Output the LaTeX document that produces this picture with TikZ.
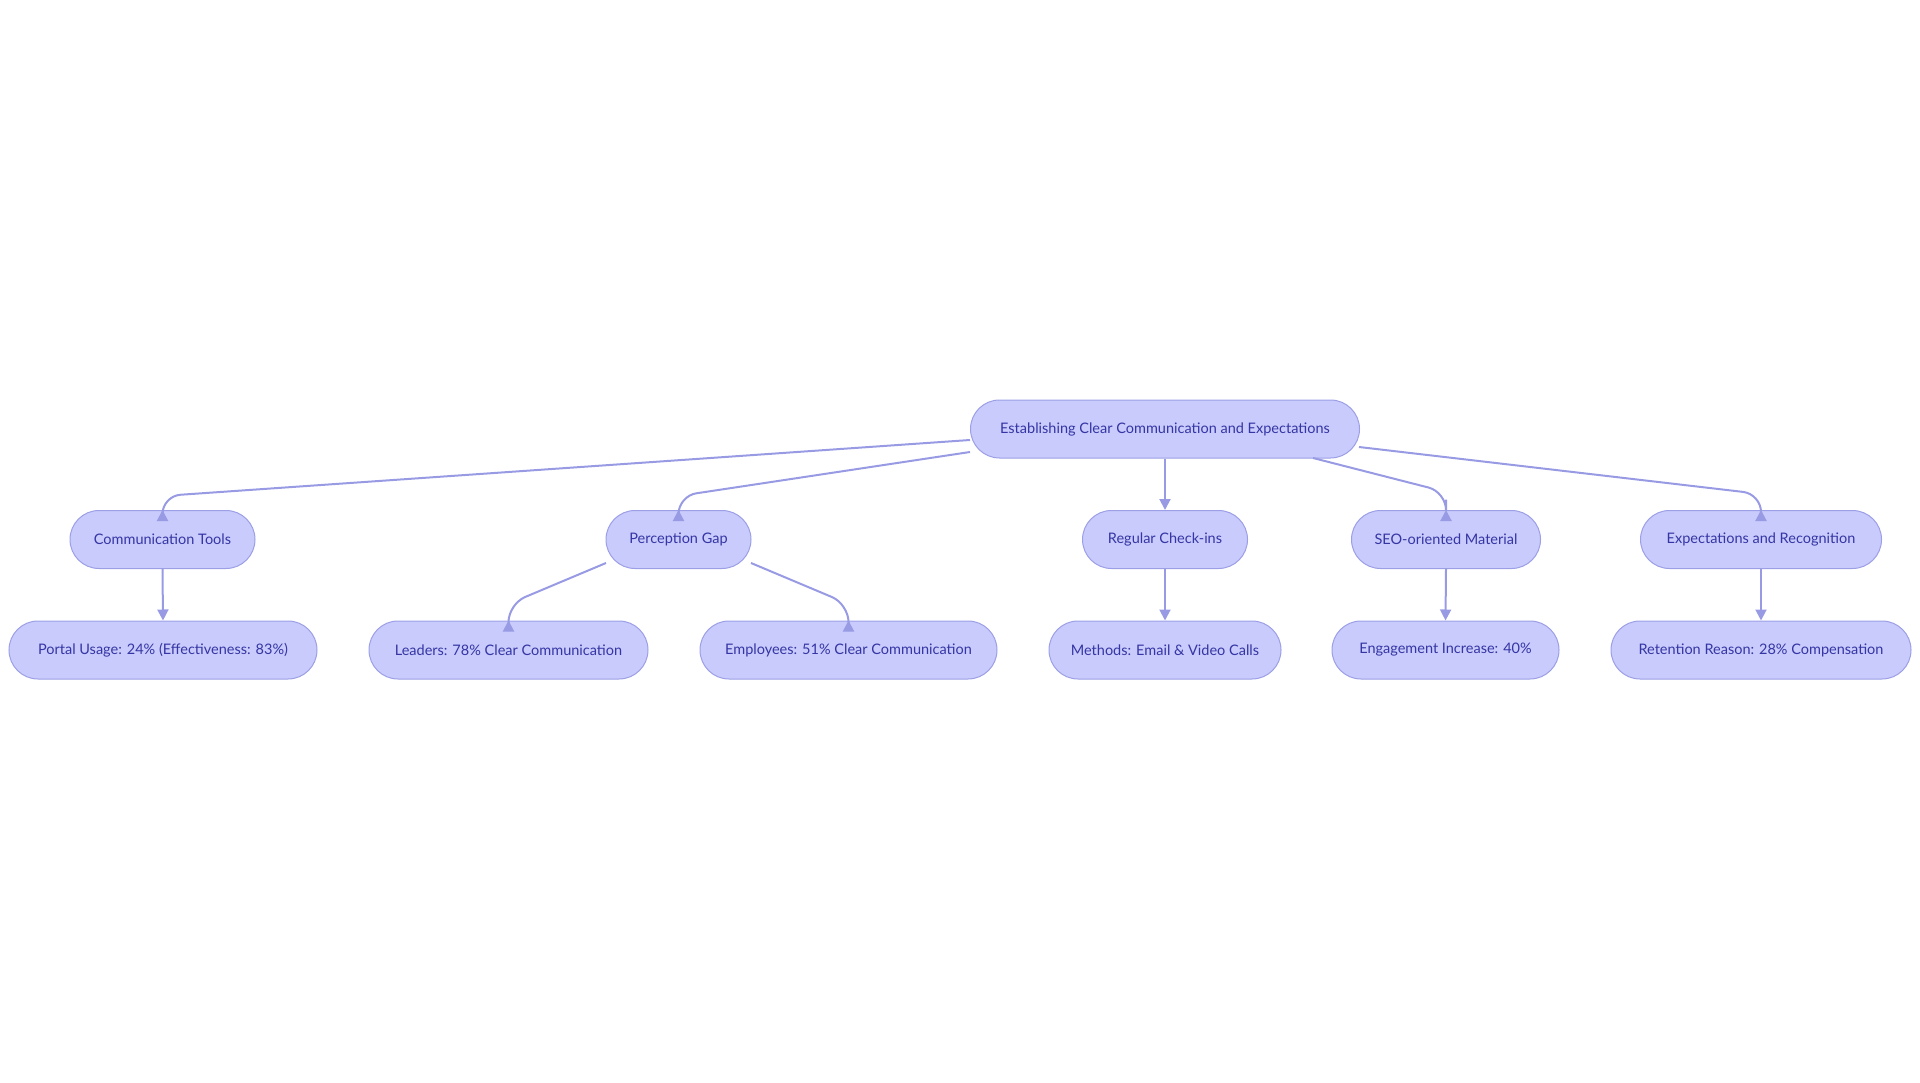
\documentclass[tikz,border=0pt]{standalone}
\usepackage{fontspec}
\setmainfont{Lato}
\usetikzlibrary{arrows.meta}
\definecolor{nfill}{HTML}{C8CBFB}
\definecolor{nline}{HTML}{9C9FE6}
\definecolor{ntext}{HTML}{3535A5}
\definecolor{eline}{HTML}{989BE3}
\tikzset{
 box/.style={draw=nline, line width=1pt, fill=nfill, rounded corners=29pt, minimum height=58pt, inner sep=0pt, text=ntext, font=\fontsize{14.5}{16}\selectfont},
 conn/.style={draw=eline, line width=2pt, -{Triangle[length=11pt,width=11pt]}, rounded corners=18pt}
}
\begin{document}
\begin{tikzpicture}[x=1pt,y=-1pt]
\useasboundingbox (0,0) rectangle (1920,1083);
\node[box, minimum width=389pt] (root) at (1165,429) {Establishing Clear Communication and Expectations};
\node[box, minimum width=185pt] (ct) at (162.5,539.5) {Communication Tools};
\node[box, minimum width=145pt] (pg) at (678.5,539.5) {Perception Gap};
\node[box, minimum width=165pt] (rc) at (1165,539.5) {Regular Check-ins};
\node[box, minimum width=189pt] (seo) at (1446,539.5) {SEO-oriented Material};
\node[box, minimum width=241pt] (er) at (1761,539.5) {Expectations and Recognition};
\node[box, minimum width=308pt] (pu) at (163,650) {Portal Usage: 24\% (Effectiveness: 83\%)};
\node[box, minimum width=279pt] (ld) at (508.5,650) {Leaders: 78\% Clear Communication};
\node[box, minimum width=297pt] (em) at (848.5,650) {Employees: 51\% Clear Communication};
\node[box, minimum width=232pt] (me) at (1165,650) {Methods: Email \& Video Calls};
\node[box, minimum width=227pt] (en) at (1445.5,650) {Engagement Increase: 40\%};
\node[box, minimum width=300pt] (rr) at (1761,650) {Retention Reason: 28\% Compensation};
\coordinate (s1) at (970,440);
\coordinate (s2) at (970,452);
\coordinate (s3) at (1313,458);
\coordinate (s4) at (1359,447);
\coordinate (p1) at (606,563);
\coordinate (p2) at (751,563);
\draw[conn] (s1) -- (ct.north |- 0,496) -- (ct.north);
\draw[conn] (s2) -- (pg.north |- 0,496) -- (pg.north);
\draw[conn] (root.south) -- (rc.north);
\draw[conn] (s3) -- (seo.north |- 0,492) -- (seo.north);
\draw[conn] (s4) -- (er.north |- 0,494) -- (er.north);
\draw[conn] (p1) -- (ld.north |- 0,604) -- (ld.north);
\draw[conn] (p2) -- (em.north |- 0,604) -- (em.north);
\draw[conn] (ct.south) -- (pu.north);
\draw[conn] (rc.south) -- (me.north);
\draw[conn] (seo.south) -- (en.north);
\draw[conn] (er.south) -- (rr.north);
\end{tikzpicture}
\end{document}
